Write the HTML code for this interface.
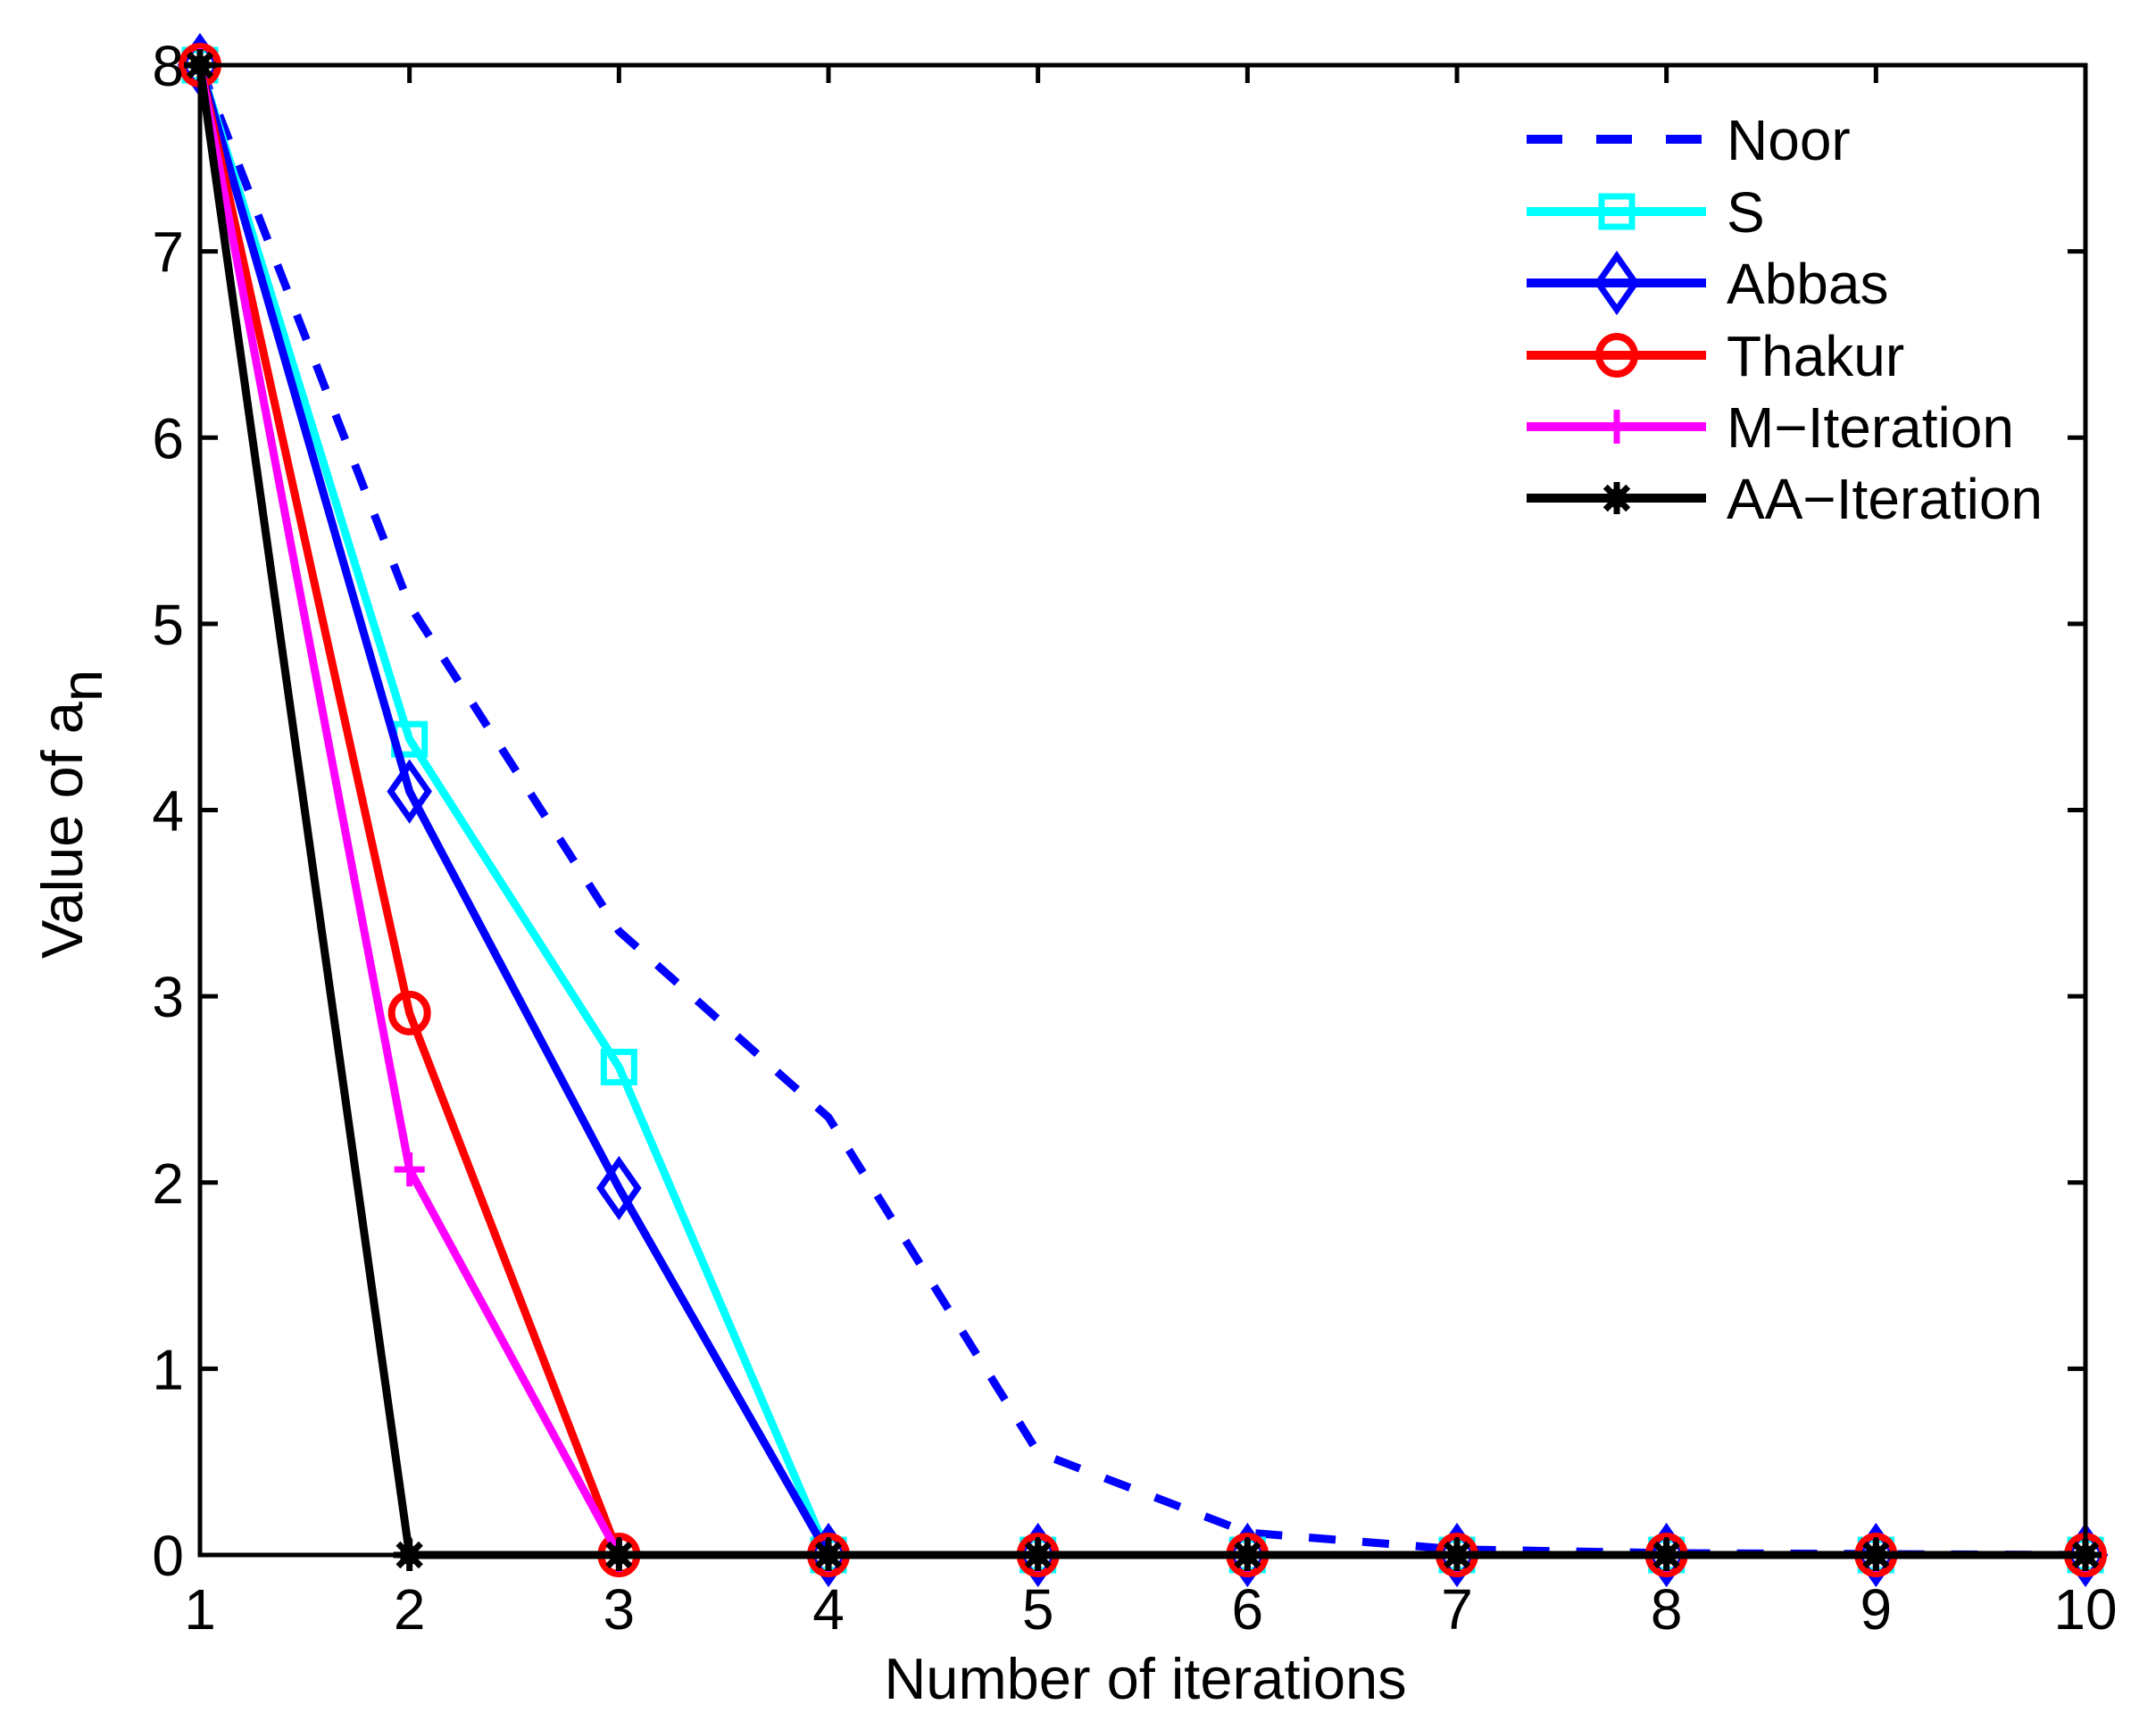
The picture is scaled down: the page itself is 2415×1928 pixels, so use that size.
<!DOCTYPE html>
<html><head><meta charset="utf-8">
<style>
html,body{margin:0;padding:0;background:#fff;}
svg{display:block;font-family:"Liberation Sans",Arial,sans-serif;}
</style></head>
<body>
<svg id="chart" width="2415" height="1928" viewBox="0 0 2415 1928" xmlns="http://www.w3.org/2000/svg">
<rect x="0" y="0" width="2415" height="1928" fill="#fff"/>
<g id="series"></g>
<g id="axes"></g>
<g id="legend"></g>
</svg>
<script>
const iterations = [1,2,3,4,5,6,7,8,9,10];
const noorValues = [8,5.1,3.35,2.35,0.55,0.12,0.03,0.01,0.005,0];
const sValues = [8,4.38,2.62,0,0,0,0,0,0,0];
const abbasValues = [8,4.1,1.97,0,0,0,0,0,0,0];
const thakurValues = [8,2.91,0,0,0,0,0,0,0,0];
const mValues = [8,2.07,0,0,0,0,0,0,0,0];
const aaValues = [8,0,0,0,0,0,0,0,0,0];
const xTicks = [1,2,3,4,5,6,7,8,9,10];
const yTicks = [0,1,2,3,4,5,6,7,8];
const seriesNames = ["Noor","S","Abbas","Thakur","M\u2212Iteration","AA\u2212Iteration"];

const NS="http://www.w3.org/2000/svg";
const L=224,R=2336,T=73,B=1742;
function xs(v){return L+(v-1)/(10-1)*(R-L);}
function ys(v){return B-(v-0)/(8-0)*(B-T);}
function mk(tag,attrs,parent){const e=document.createElementNS(NS,tag);for(const k in attrs)e.setAttribute(k,attrs[k]);parent.appendChild(e);return e;}

const seriesG=document.getElementById('series');
const axesG=document.getElementById('axes');
const legG=document.getElementById('legend');

const defs=[
 {vals:noorValues,color:"#0000ff",dash:"30,30",marker:"none",key:"noor"},
 {vals:sValues,color:"#00ffff",dash:"",marker:"square",key:"s"},
 {vals:abbasValues,color:"#0000ff",dash:"",marker:"diamond",key:"abbas"},
 {vals:thakurValues,color:"#ff0000",dash:"",marker:"circle",key:"thakur"},
 {vals:mValues,color:"#ff00ff",dash:"",marker:"plus",key:"m-iteration"},
 {vals:aaValues,color:"#000000",dash:"",marker:"star",key:"aa-iteration"}
];

function drawMarker(type,cx,cy,color,parent,name){
  let e=null;
  if(type==="square"){e=mk('rect',{x:cx-17,y:cy-17,width:34,height:34,fill:"none",stroke:color,"stroke-width":7},parent);}
  else if(type==="diamond"){e=mk('path',{d:`M${cx},${cy-30}L${cx+21},${cy}L${cx},${cy+30}L${cx-21},${cy}Z`,fill:"none",stroke:color,"stroke-width":7},parent);}
  else if(type==="circle"){e=mk('ellipse',{cx:cx,cy:cy,rx:20,ry:21,fill:"none",stroke:color,"stroke-width":8},parent);}
  else if(type==="plus"){e=mk('path',{d:`M${cx-17},${cy}H${cx+17}M${cx},${cy-19}V${cy+19}`,fill:"none",stroke:color,"stroke-width":7},parent);}
  else if(type==="star"){e=mk('g',{},parent);
    mk('circle',{cx:cx,cy:cy,r:11,fill:color},e);
    for(let a=0;a<4;a++){const ang=a*Math.PI/4;const dx=Math.cos(ang)*18,dy=Math.sin(ang)*18;
      mk('line',{x1:cx-dx,y1:cy-dy,x2:cx+dx,y2:cy+dy,stroke:color,"stroke-width":7},e);}
  }
  if(e){
    }
}

defs.forEach((d,si)=>{
  const g=mk('g',{},seriesG);
  
  
  const pts=iterations.map((x,i)=>xs(x)+","+ys(d.vals[i])).join(" ");
  const pl=mk('polyline',{points:pts,fill:"none",stroke:d.color,"stroke-width":9,"stroke-linejoin":"round","stroke-dasharray":d.dash},g);
  
  
  if(d.marker!=="none"){
    iterations.forEach((x,i)=>{drawMarker(d.marker,xs(x),ys(d.vals[i]),d.color,g,'point-'+d.key+'-'+x);});
  }
});

const box=mk('rect',{x:L,y:T,width:R-L,height:B-T,fill:"none",stroke:"#000","stroke-width":5},axesG);


xTicks.forEach(v=>{
  const x=xs(v);
  mk('line',{x1:x,y1:B,x2:x,y2:B-20,stroke:"#000","stroke-width":5},axesG);
  mk('line',{x1:x,y1:T,x2:x,y2:T+20,stroke:"#000","stroke-width":5},axesG);
  const t=mk('text',{x:x,y:1825,"text-anchor":"middle","font-size":64,fill:"#000"},axesG);
  t.textContent=v;
  
  
});
yTicks.forEach(v=>{
  const y=ys(v);
  mk('line',{x1:L,y1:y,x2:L+20,y2:y,stroke:"#000","stroke-width":5},axesG);
  mk('line',{x1:R,y1:y,x2:R-20,y2:y,stroke:"#000","stroke-width":5},axesG);
  const t=mk('text',{x:L-18,y:y+23,"text-anchor":"end","font-size":64,fill:"#000"},axesG);
  t.textContent=v;
  
  
});
const xt=mk('text',{x:1283,y:1903,"text-anchor":"middle","font-size":65,fill:"#000"},axesG);
xt.textContent="Number of iterations";


const yt=mk('text',{transform:"translate(92,912) rotate(-90)","text-anchor":"middle","font-size":65,fill:"#000"},axesG);


yt.innerHTML='Value of a<tspan dy="22" font-size="65">n</tspan>';

const rowY=[156,237,317,398,478,558];
defs.forEach((d,i)=>{
  const g=mk('g',{},legG);
  
  
  mk('line',{x1:1710,y1:rowY[i],x2:1911,y2:rowY[i],stroke:d.color,"stroke-width":10,"stroke-dasharray":d.dash?"40,38":""},g);
  if(d.marker!=="none")drawMarker(d.marker,1811,rowY[i],d.color,g,'legend-marker-'+d.key);
  const t=mk('text',{x:1934,y:rowY[i]+23,"font-size":64,fill:"#000"},g);
  t.textContent=seriesNames[i];
  
  
});
</script>
</body></html>
